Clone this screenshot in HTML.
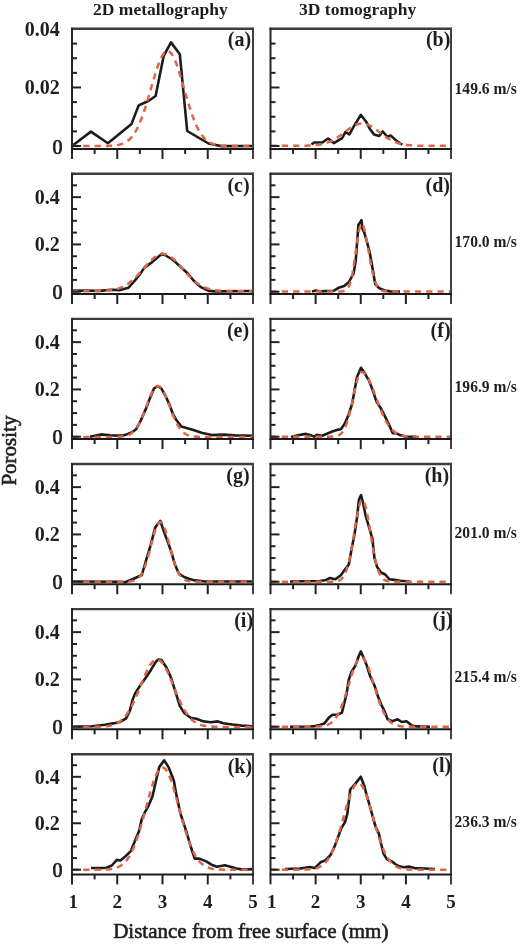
<!DOCTYPE html>
<html><head><meta charset="utf-8"><title>Porosity profiles</title>
<style>html,body{margin:0;padding:0;background:#fff;width:520px;height:945px;overflow:hidden}svg{display:block;filter:blur(0.45px)}</style>
</head><body>
<svg width="520" height="945" viewBox="0 0 520 945" font-family="Liberation Serif, 'Times New Roman', serif" fill="#1e1e1e"><polyline points="72.0,146.0 90.9,131.6 107.9,143.2 131.5,123.9 138.7,105.4 148.8,100.7 155.6,96.0 163.6,56.2 171.0,42.4 179.8,54.2 187.2,131.0 208.5,143.5 220.8,146.1 253.0,146.0" fill="none" stroke="#1c1c1c" stroke-width="2.6" stroke-linejoin="round"/>
<polyline points="72.0,146.0 73.0,146.0 74.0,146.0 75.0,146.0 76.0,146.0 77.0,146.0 78.0,146.0 79.0,146.0 80.0,146.0 81.0,146.0 82.0,146.0 83.0,146.0 84.0,146.0 85.0,146.0 86.0,146.0 87.0,146.0 88.0,146.0 89.0,146.0 90.0,146.0 91.0,146.0 92.0,146.0 93.0,146.0 94.0,146.0 95.0,146.0 96.0,146.0 97.0,146.0 98.0,146.0 99.0,146.0 100.0,146.0 101.0,146.0 102.0,146.0 103.0,146.0 104.0,145.9 105.0,145.9 106.0,145.9 107.0,145.9 108.0,145.9 109.0,145.8 110.0,145.8 111.0,145.7 112.0,145.7 113.0,145.6 114.0,145.5 115.0,145.4 116.0,145.3 117.0,145.1 118.0,144.9 119.0,144.7 120.0,144.5 121.0,144.2 122.0,143.9 123.0,143.5 124.0,143.1 125.0,142.6 126.0,142.0 127.0,141.3 128.0,140.6 129.0,139.8 130.0,138.8 131.0,137.8 132.0,136.6 133.0,135.3 134.0,133.9 135.0,132.3 136.0,130.6 137.0,128.8 138.0,126.8 139.0,124.6 140.0,122.3 141.0,119.8 142.0,117.2 143.0,114.5 144.0,111.5 145.0,108.5 146.0,105.4 147.0,102.1 148.0,98.7 149.0,95.3 150.0,91.9 151.0,88.4 152.0,84.9 153.0,81.4 154.0,78.0 155.0,74.7 156.0,71.5 157.0,68.4 158.0,65.5 159.0,62.8 160.0,60.3 161.0,58.1 162.0,56.1 163.0,54.5 164.0,53.1 165.0,52.1 166.0,51.4 167.0,51.0 168.0,51.0 169.0,51.4 170.0,52.1 171.0,53.1 172.0,54.5 173.0,56.1 174.0,58.1 175.0,60.3 176.0,62.8 177.0,65.5 178.0,68.4 179.0,71.5 180.0,74.7 181.0,78.0 182.0,81.4 183.0,84.9 184.0,88.4 185.0,91.9 186.0,95.3 187.0,98.7 188.0,102.1 189.0,105.4 190.0,108.5 191.0,111.5 192.0,114.5 193.0,117.2 194.0,119.8 195.0,122.3 196.0,124.6 197.0,126.8 198.0,128.8 199.0,130.6 200.0,132.3 201.0,133.9 202.0,135.3 203.0,136.6 204.0,137.8 205.0,138.8 206.0,139.8 207.0,140.6 208.0,141.3 209.0,142.0 210.0,142.6 211.0,143.1 212.0,143.5 213.0,143.9 214.0,144.2 215.0,144.5 216.0,144.7 217.0,144.9 218.0,145.1 219.0,145.3 220.0,145.4 221.0,145.5 222.0,145.6 223.0,145.7 224.0,145.7 225.0,145.8 226.0,145.8 227.0,145.9 228.0,145.9 229.0,145.9 230.0,145.9 231.0,145.9 232.0,146.0 233.0,146.0 234.0,146.0 235.0,146.0 236.0,146.0 237.0,146.0 238.0,146.0 239.0,146.0 240.0,146.0 241.0,146.0 242.0,146.0 243.0,146.0 244.0,146.0 245.0,146.0 246.0,146.0 247.0,146.0 248.0,146.0 249.0,146.0 250.0,146.0 251.0,146.0 252.0,146.0 253.0,146.0" fill="none" stroke="#e06446" stroke-width="2.5" stroke-dasharray="6.3 5"/>
<line x1="71.00" y1="28.70" x2="254.00" y2="28.70" stroke="#433a35" stroke-width="2.4"/>
<line x1="253.00" y1="27.70" x2="253.00" y2="158.90" stroke="#45403d" stroke-width="2"/>
<line x1="72.00" y1="27.70" x2="72.00" y2="158.90" stroke="#252525" stroke-width="2"/>
<line x1="71.00" y1="148.90" x2="254.00" y2="148.90" stroke="#1a1a1a" stroke-width="2"/>
<line x1="94.62" y1="148.90" x2="94.62" y2="153.90" stroke="#222" stroke-width="2"/>
<line x1="117.25" y1="148.90" x2="117.25" y2="158.90" stroke="#222" stroke-width="2"/>
<line x1="139.88" y1="148.90" x2="139.88" y2="153.90" stroke="#222" stroke-width="2"/>
<line x1="162.50" y1="148.90" x2="162.50" y2="158.90" stroke="#222" stroke-width="2"/>
<line x1="185.12" y1="148.90" x2="185.12" y2="153.90" stroke="#222" stroke-width="2"/>
<line x1="207.75" y1="148.90" x2="207.75" y2="158.90" stroke="#222" stroke-width="2"/>
<line x1="230.38" y1="148.90" x2="230.38" y2="153.90" stroke="#222" stroke-width="2"/>
<line x1="72.00" y1="146.00" x2="81.00" y2="146.00" stroke="#222" stroke-width="2"/>
<line x1="72.00" y1="131.37" x2="77.00" y2="131.37" stroke="#222" stroke-width="2"/>
<line x1="72.00" y1="116.74" x2="77.00" y2="116.74" stroke="#222" stroke-width="2"/>
<line x1="72.00" y1="102.11" x2="77.00" y2="102.11" stroke="#222" stroke-width="2"/>
<line x1="72.00" y1="87.48" x2="81.00" y2="87.48" stroke="#222" stroke-width="2"/>
<line x1="72.00" y1="72.85" x2="77.00" y2="72.85" stroke="#222" stroke-width="2"/>
<line x1="72.00" y1="58.22" x2="77.00" y2="58.22" stroke="#222" stroke-width="2"/>
<line x1="72.00" y1="43.59" x2="77.00" y2="43.59" stroke="#222" stroke-width="2"/>
<text x="251.10" y="45.80" font-size="20" font-weight="bold" text-anchor="end" >(a)</text>
<polyline points="311.5,144.5 314.2,142.5 322.3,142.5 328.1,138.5 333.8,143.1 339.6,139.6 341.9,138.5 345.4,132.1 349.4,134.4 353.5,126.9 360.8,114.8 366.5,122.3 370.0,129.2 374.0,134.4 379.2,135.9 382.7,131.5 387.3,136.7 390.8,135.6 396.5,140.8 402.3,144.8" fill="none" stroke="#1c1c1c" stroke-width="2.6" stroke-linejoin="round"/>
<polyline points="270.5,145.8 271.5,145.8 272.5,145.8 273.5,145.8 274.5,145.8 275.5,145.8 276.5,145.8 277.5,145.8 278.5,145.8 279.5,145.8 280.5,145.8 281.5,145.8 282.5,145.8 283.5,145.8 284.5,145.8 285.5,145.8 286.5,145.8 287.5,145.8 288.5,145.8 289.5,145.8 290.5,145.8 291.5,145.8 292.5,145.8 293.5,145.8 294.5,145.8 295.5,145.8 296.5,145.8 297.5,145.8 298.5,145.8 299.5,145.8 300.5,145.8 301.5,145.7 302.5,145.7 303.5,145.7 304.5,145.7 305.5,145.7 306.5,145.7 307.5,145.6 308.5,145.6 309.5,145.6 310.5,145.5 311.5,145.5 312.5,145.4 313.5,145.3 314.5,145.2 315.5,145.1 316.5,145.0 317.5,144.9 318.5,144.8 319.5,144.6 320.5,144.5 321.5,144.3 322.5,144.1 323.5,143.8 324.5,143.6 325.5,143.3 326.5,143.0 327.5,142.6 328.5,142.2 329.5,141.8 330.5,141.4 331.5,140.9 332.5,140.4 333.5,139.9 334.5,139.3 335.5,138.7 336.5,138.1 337.5,137.4 338.5,136.7 339.5,136.0 340.5,135.3 341.5,134.6 342.5,133.8 343.5,133.0 344.5,132.3 345.5,131.5 346.5,130.7 347.5,130.0 348.5,129.2 349.5,128.5 350.5,127.8 351.5,127.2 352.5,126.6 353.5,126.0 354.5,125.5 355.5,125.0 356.5,124.6 357.5,124.2 358.5,123.9 359.5,123.7 360.5,123.6 361.5,123.5 362.5,123.5 363.5,123.6 364.5,123.7 365.5,123.9 366.5,124.2 367.5,124.6 368.5,125.0 369.5,125.5 370.5,126.0 371.5,126.6 372.5,127.2 373.5,127.8 374.5,128.5 375.5,129.2 376.5,130.0 377.5,130.7 378.5,131.5 379.5,132.3 380.5,133.0 381.5,133.8 382.5,134.6 383.5,135.3 384.5,136.0 385.5,136.7 386.5,137.4 387.5,138.1 388.5,138.7 389.5,139.3 390.5,139.9 391.5,140.4 392.5,140.9 393.5,141.4 394.5,141.8 395.5,142.2 396.5,142.6 397.5,143.0 398.5,143.3 399.5,143.6 400.5,143.8 401.5,144.1 402.5,144.3 403.5,144.5 404.5,144.6 405.5,144.8 406.5,144.9 407.5,145.0 408.5,145.1 409.5,145.2 410.5,145.3 411.5,145.4 412.5,145.5 413.5,145.5 414.5,145.6 415.5,145.6 416.5,145.6 417.5,145.7 418.5,145.7 419.5,145.7 420.5,145.7 421.5,145.7 422.5,145.7 423.5,145.8 424.5,145.8 425.5,145.8 426.5,145.8 427.5,145.8 428.5,145.8 429.5,145.8 430.5,145.8 431.5,145.8 432.5,145.8 433.5,145.8 434.5,145.8 435.5,145.8 436.5,145.8 437.5,145.8 438.5,145.8 439.5,145.8 440.5,145.8 441.5,145.8 442.5,145.8 443.5,145.8 444.5,145.8 445.5,145.8 446.5,145.8 447.5,145.8 448.5,145.8 449.5,145.8 450.5,145.8" fill="none" stroke="#e06446" stroke-width="2.5" stroke-dasharray="6.3 5"/>
<line x1="269.50" y1="28.70" x2="452.00" y2="28.70" stroke="#433a35" stroke-width="2.4"/>
<line x1="451.00" y1="27.70" x2="451.00" y2="158.90" stroke="#45403d" stroke-width="2"/>
<line x1="270.50" y1="27.70" x2="270.50" y2="158.90" stroke="#252525" stroke-width="2"/>
<line x1="269.50" y1="148.90" x2="452.00" y2="148.90" stroke="#1a1a1a" stroke-width="2"/>
<line x1="293.06" y1="148.90" x2="293.06" y2="153.90" stroke="#222" stroke-width="2"/>
<line x1="315.62" y1="148.90" x2="315.62" y2="158.90" stroke="#222" stroke-width="2"/>
<line x1="338.19" y1="148.90" x2="338.19" y2="153.90" stroke="#222" stroke-width="2"/>
<line x1="360.75" y1="148.90" x2="360.75" y2="158.90" stroke="#222" stroke-width="2"/>
<line x1="383.31" y1="148.90" x2="383.31" y2="153.90" stroke="#222" stroke-width="2"/>
<line x1="405.88" y1="148.90" x2="405.88" y2="158.90" stroke="#222" stroke-width="2"/>
<line x1="428.44" y1="148.90" x2="428.44" y2="153.90" stroke="#222" stroke-width="2"/>
<line x1="270.50" y1="146.00" x2="279.50" y2="146.00" stroke="#222" stroke-width="2"/>
<line x1="270.50" y1="131.37" x2="275.50" y2="131.37" stroke="#222" stroke-width="2"/>
<line x1="270.50" y1="116.74" x2="275.50" y2="116.74" stroke="#222" stroke-width="2"/>
<line x1="270.50" y1="102.11" x2="275.50" y2="102.11" stroke="#222" stroke-width="2"/>
<line x1="270.50" y1="87.48" x2="279.50" y2="87.48" stroke="#222" stroke-width="2"/>
<line x1="270.50" y1="72.85" x2="275.50" y2="72.85" stroke="#222" stroke-width="2"/>
<line x1="270.50" y1="58.22" x2="275.50" y2="58.22" stroke="#222" stroke-width="2"/>
<line x1="270.50" y1="43.59" x2="275.50" y2="43.59" stroke="#222" stroke-width="2"/>
<text x="450.35" y="45.70" font-size="20" font-weight="bold" text-anchor="end" >(b)</text>
<text x="59.80" y="35.86" font-size="20" font-weight="bold" text-anchor="end" >0.04</text>
<text x="59.80" y="94.38" font-size="20" font-weight="bold" text-anchor="end" >0.02</text>
<text x="62.50" y="153.70" font-size="20" font-weight="normal" text-anchor="end" stroke="#1e1e1e" stroke-width="0.7">0</text>
<text x="454.60" y="94.20" font-size="17" font-weight="bold" text-anchor="start" textLength="62.2" lengthAdjust="spacingAndGlyphs">149.6 m/s</text>
<polyline points="72.0,290.5 100.0,290.9 110.8,289.8 120.2,290.1 128.3,287.8 135.0,280.4 140.4,273.6 144.4,267.6 151.1,262.9 162.2,253.5 172.5,259.5 179.2,265.6 187.3,273.0 194.0,281.0 200.8,287.1 208.8,290.9 215.6,291.4 253.0,291.0" fill="none" stroke="#1c1c1c" stroke-width="2.6" stroke-linejoin="round"/>
<polyline points="72.0,291.2 73.0,291.2 74.0,291.2 75.0,291.2 76.0,291.2 77.0,291.2 78.0,291.2 79.0,291.2 80.0,291.2 81.0,291.2 82.0,291.2 83.0,291.2 84.0,291.2 85.0,291.2 86.0,291.2 87.0,291.2 88.0,291.2 89.0,291.2 90.0,291.2 91.0,291.2 92.0,291.2 93.0,291.1 94.0,291.1 95.0,291.1 96.0,291.1 97.0,291.1 98.0,291.1 99.0,291.0 100.0,291.0 101.0,291.0 102.0,290.9 103.0,290.9 104.0,290.8 105.0,290.8 106.0,290.7 107.0,290.6 108.0,290.5 109.0,290.4 110.0,290.3 111.0,290.1 112.0,290.0 113.0,289.8 114.0,289.6 115.0,289.4 116.0,289.2 117.0,288.9 118.0,288.6 119.0,288.3 120.0,287.9 121.0,287.5 122.0,287.1 123.0,286.7 124.0,286.2 125.0,285.6 126.0,285.1 127.0,284.4 128.0,283.8 129.0,283.1 130.0,282.3 131.0,281.5 132.0,280.7 133.0,279.8 134.0,278.9 135.0,277.9 136.0,276.9 137.0,275.9 138.0,274.8 139.0,273.8 140.0,272.6 141.0,271.5 142.0,270.4 143.0,269.2 144.0,268.1 145.0,266.9 146.0,265.8 147.0,264.6 148.0,263.5 149.0,262.5 150.0,261.4 151.0,260.4 152.0,259.5 153.0,258.6 154.0,257.8 155.0,257.0 156.0,256.3 157.0,255.7 158.0,255.2 159.0,254.8 160.0,254.4 161.0,254.2 162.0,254.0 163.0,254.0 164.0,254.0 165.0,254.2 166.0,254.4 167.0,254.8 168.0,255.2 169.0,255.7 170.0,256.3 171.0,257.0 172.0,257.8 173.0,258.6 174.0,259.5 175.0,260.4 176.0,261.4 177.0,262.5 178.0,263.5 179.0,264.6 180.0,265.8 181.0,266.9 182.0,268.1 183.0,269.2 184.0,270.4 185.0,271.5 186.0,272.6 187.0,273.8 188.0,274.8 189.0,275.9 190.0,276.9 191.0,277.9 192.0,278.9 193.0,279.8 194.0,280.7 195.0,281.5 196.0,282.3 197.0,283.1 198.0,283.8 199.0,284.4 200.0,285.1 201.0,285.6 202.0,286.2 203.0,286.7 204.0,287.1 205.0,287.5 206.0,287.9 207.0,288.3 208.0,288.6 209.0,288.9 210.0,289.2 211.0,289.4 212.0,289.6 213.0,289.8 214.0,290.0 215.0,290.1 216.0,290.3 217.0,290.4 218.0,290.5 219.0,290.6 220.0,290.7 221.0,290.8 222.0,290.8 223.0,290.9 224.0,290.9 225.0,291.0 226.0,291.0 227.0,291.0 228.0,291.1 229.0,291.1 230.0,291.1 231.0,291.1 232.0,291.1 233.0,291.1 234.0,291.2 235.0,291.2 236.0,291.2 237.0,291.2 238.0,291.2 239.0,291.2 240.0,291.2 241.0,291.2 242.0,291.2 243.0,291.2 244.0,291.2 245.0,291.2 246.0,291.2 247.0,291.2 248.0,291.2 249.0,291.2 250.0,291.2 251.0,291.2 252.0,291.2 253.0,291.2" fill="none" stroke="#e06446" stroke-width="2.5" stroke-dasharray="6.3 5"/>
<line x1="71.00" y1="173.80" x2="254.00" y2="173.80" stroke="#433a35" stroke-width="2.4"/>
<line x1="253.00" y1="172.80" x2="253.00" y2="304.00" stroke="#45403d" stroke-width="2"/>
<line x1="72.00" y1="172.80" x2="72.00" y2="304.00" stroke="#252525" stroke-width="2"/>
<line x1="71.00" y1="294.00" x2="254.00" y2="294.00" stroke="#1a1a1a" stroke-width="2"/>
<line x1="94.62" y1="294.00" x2="94.62" y2="299.00" stroke="#222" stroke-width="2"/>
<line x1="117.25" y1="294.00" x2="117.25" y2="304.00" stroke="#222" stroke-width="2"/>
<line x1="139.88" y1="294.00" x2="139.88" y2="299.00" stroke="#222" stroke-width="2"/>
<line x1="162.50" y1="294.00" x2="162.50" y2="304.00" stroke="#222" stroke-width="2"/>
<line x1="185.12" y1="294.00" x2="185.12" y2="299.00" stroke="#222" stroke-width="2"/>
<line x1="207.75" y1="294.00" x2="207.75" y2="304.00" stroke="#222" stroke-width="2"/>
<line x1="230.38" y1="294.00" x2="230.38" y2="299.00" stroke="#222" stroke-width="2"/>
<line x1="72.00" y1="291.70" x2="81.00" y2="291.70" stroke="#222" stroke-width="2"/>
<line x1="72.00" y1="279.88" x2="77.00" y2="279.88" stroke="#222" stroke-width="2"/>
<line x1="72.00" y1="268.06" x2="77.00" y2="268.06" stroke="#222" stroke-width="2"/>
<line x1="72.00" y1="256.24" x2="77.00" y2="256.24" stroke="#222" stroke-width="2"/>
<line x1="72.00" y1="244.42" x2="81.00" y2="244.42" stroke="#222" stroke-width="2"/>
<line x1="72.00" y1="232.60" x2="77.00" y2="232.60" stroke="#222" stroke-width="2"/>
<line x1="72.00" y1="220.78" x2="77.00" y2="220.78" stroke="#222" stroke-width="2"/>
<line x1="72.00" y1="208.96" x2="77.00" y2="208.96" stroke="#222" stroke-width="2"/>
<line x1="72.00" y1="197.14" x2="81.00" y2="197.14" stroke="#222" stroke-width="2"/>
<line x1="72.00" y1="185.32" x2="77.00" y2="185.32" stroke="#222" stroke-width="2"/>
<text x="249.60" y="192.40" font-size="20" font-weight="bold" text-anchor="end" >(c)</text>
<polyline points="312.0,291.5 316.0,290.5 320.0,291.4 333.5,290.8 339.5,287.4 344.2,286.0 348.9,282.0 353.6,273.3 355.7,261.1 357.0,243.6 358.4,224.8 360.4,222.1 361.5,220.1 362.4,228.8 364.4,232.9 367.1,242.3 369.8,253.1 372.5,267.9 375.2,284.0 379.2,288.1 384.6,290.5 390.0,291.4 400.0,291.5" fill="none" stroke="#1c1c1c" stroke-width="2.6" stroke-linejoin="round"/>
<polyline points="270.5,291.5 271.5,291.5 272.5,291.5 273.5,291.5 274.5,291.5 275.5,291.5 276.5,291.5 277.5,291.5 278.5,291.5 279.5,291.5 280.5,291.5 281.5,291.5 282.5,291.5 283.5,291.5 284.5,291.5 285.5,291.5 286.5,291.5 287.5,291.5 288.5,291.5 289.5,291.5 290.5,291.5 291.5,291.5 292.5,291.5 293.5,291.5 294.5,291.5 295.5,291.5 296.5,291.5 297.5,291.5 298.5,291.5 299.5,291.5 300.5,291.5 301.5,291.5 302.5,291.5 303.5,291.5 304.5,291.5 305.5,291.5 306.5,291.5 307.5,291.5 308.5,291.5 309.5,291.5 310.5,291.5 311.5,291.5 312.5,291.5 313.5,291.5 314.5,291.5 315.5,291.5 316.5,291.5 317.5,291.5 318.5,291.5 319.5,291.5 320.5,291.5 321.5,291.5 322.5,291.5 323.5,291.5 324.5,291.5 325.5,291.5 326.5,291.5 327.5,291.5 328.5,291.5 329.5,291.5 330.5,291.5 331.5,291.5 332.5,291.5 333.5,291.5 334.5,291.5 335.5,291.5 336.5,291.5 337.5,291.5 338.5,291.5 339.5,291.5 340.5,291.4 341.5,291.4 342.5,291.3 343.5,291.1 344.5,290.8 345.5,290.4 346.5,289.6 347.5,288.5 348.5,286.9 349.5,284.7 350.5,281.7 351.5,277.8 352.5,272.9 353.5,267.2 354.5,260.6 355.5,253.5 356.5,246.2 357.5,239.2 358.5,233.0 359.5,228.2 360.5,225.1 361.5,224.0 362.5,224.7 363.5,226.7 364.5,229.9 365.5,234.2 366.5,239.2 367.5,244.8 368.5,250.6 369.5,256.4 370.5,262.0 371.5,267.2 372.5,271.9 373.5,276.0 374.5,279.5 375.5,282.4 376.5,284.7 377.5,286.5 378.5,288.0 379.5,289.0 380.5,289.8 381.5,290.4 382.5,290.8 383.5,291.0 384.5,291.2 385.5,291.3 386.5,291.4 387.5,291.4 388.5,291.5 389.5,291.5 390.5,291.5 391.5,291.5 392.5,291.5 393.5,291.5 394.5,291.5 395.5,291.5 396.5,291.5 397.5,291.5 398.5,291.5 399.5,291.5 400.5,291.5 401.5,291.5 402.5,291.5 403.5,291.5 404.5,291.5 405.5,291.5 406.5,291.5 407.5,291.5 408.5,291.5 409.5,291.5 410.5,291.5 411.5,291.5 412.5,291.5 413.5,291.5 414.5,291.5 415.5,291.5 416.5,291.5 417.5,291.5 418.5,291.5 419.5,291.5 420.5,291.5 421.5,291.5 422.5,291.5 423.5,291.5 424.5,291.5 425.5,291.5 426.5,291.5 427.5,291.5 428.5,291.5 429.5,291.5 430.5,291.5 431.5,291.5 432.5,291.5 433.5,291.5 434.5,291.5 435.5,291.5 436.5,291.5 437.5,291.5 438.5,291.5 439.5,291.5 440.5,291.5 441.5,291.5 442.5,291.5 443.5,291.5 444.5,291.5 445.5,291.5 446.5,291.5 447.5,291.5 448.5,291.5 449.5,291.5 450.5,291.5" fill="none" stroke="#e06446" stroke-width="2.5" stroke-dasharray="6.3 5"/>
<line x1="269.50" y1="173.80" x2="452.00" y2="173.80" stroke="#433a35" stroke-width="2.4"/>
<line x1="451.00" y1="172.80" x2="451.00" y2="304.00" stroke="#45403d" stroke-width="2"/>
<line x1="270.50" y1="172.80" x2="270.50" y2="304.00" stroke="#252525" stroke-width="2"/>
<line x1="269.50" y1="294.00" x2="452.00" y2="294.00" stroke="#1a1a1a" stroke-width="2"/>
<line x1="293.06" y1="294.00" x2="293.06" y2="299.00" stroke="#222" stroke-width="2"/>
<line x1="315.62" y1="294.00" x2="315.62" y2="304.00" stroke="#222" stroke-width="2"/>
<line x1="338.19" y1="294.00" x2="338.19" y2="299.00" stroke="#222" stroke-width="2"/>
<line x1="360.75" y1="294.00" x2="360.75" y2="304.00" stroke="#222" stroke-width="2"/>
<line x1="383.31" y1="294.00" x2="383.31" y2="299.00" stroke="#222" stroke-width="2"/>
<line x1="405.88" y1="294.00" x2="405.88" y2="304.00" stroke="#222" stroke-width="2"/>
<line x1="428.44" y1="294.00" x2="428.44" y2="299.00" stroke="#222" stroke-width="2"/>
<line x1="270.50" y1="291.70" x2="279.50" y2="291.70" stroke="#222" stroke-width="2"/>
<line x1="270.50" y1="279.88" x2="275.50" y2="279.88" stroke="#222" stroke-width="2"/>
<line x1="270.50" y1="268.06" x2="275.50" y2="268.06" stroke="#222" stroke-width="2"/>
<line x1="270.50" y1="256.24" x2="275.50" y2="256.24" stroke="#222" stroke-width="2"/>
<line x1="270.50" y1="244.42" x2="279.50" y2="244.42" stroke="#222" stroke-width="2"/>
<line x1="270.50" y1="232.60" x2="275.50" y2="232.60" stroke="#222" stroke-width="2"/>
<line x1="270.50" y1="220.78" x2="275.50" y2="220.78" stroke="#222" stroke-width="2"/>
<line x1="270.50" y1="208.96" x2="275.50" y2="208.96" stroke="#222" stroke-width="2"/>
<line x1="270.50" y1="197.14" x2="279.50" y2="197.14" stroke="#222" stroke-width="2"/>
<line x1="270.50" y1="185.32" x2="275.50" y2="185.32" stroke="#222" stroke-width="2"/>
<text x="450.00" y="191.90" font-size="20" font-weight="bold" text-anchor="end" >(d)</text>
<text x="59.80" y="204.04" font-size="20" font-weight="bold" text-anchor="end" >0.4</text>
<text x="59.80" y="251.32" font-size="20" font-weight="bold" text-anchor="end" >0.2</text>
<text x="62.50" y="299.40" font-size="20" font-weight="normal" text-anchor="end" stroke="#1e1e1e" stroke-width="0.7">0</text>
<text x="454.60" y="246.90" font-size="17" font-weight="bold" text-anchor="start" textLength="62.2" lengthAdjust="spacingAndGlyphs">170.0 m/s</text>
<polyline points="90.0,436.7 100.8,434.4 110.0,435.2 118.2,435.6 123.1,435.6 126.2,434.6 132.0,432.1 135.9,429.5 140.6,420.8 146.0,408.6 150.0,397.9 154.0,388.5 157.4,386.0 161.4,388.5 166.1,397.2 169.5,404.6 172.9,414.0 176.0,419.5 181.3,426.5 192.6,429.7 202.3,433.0 212.0,435.1 223.3,434.6 234.6,435.4 253.0,435.7" fill="none" stroke="#1c1c1c" stroke-width="2.6" stroke-linejoin="round"/>
<polyline points="72.0,436.9 73.0,436.9 74.0,436.9 75.0,436.9 76.0,436.9 77.0,436.9 78.0,436.9 79.0,436.9 80.0,436.9 81.0,436.9 82.0,436.9 83.0,436.9 84.0,436.9 85.0,436.9 86.0,436.9 87.0,436.9 88.0,436.9 89.0,436.9 90.0,436.9 91.0,436.9 92.0,436.9 93.0,436.9 94.0,436.9 95.0,436.9 96.0,436.9 97.0,436.9 98.0,436.9 99.0,436.9 100.0,436.9 101.0,436.9 102.0,436.9 103.0,436.9 104.0,436.9 105.0,436.9 106.0,436.9 107.0,436.9 108.0,436.9 109.0,436.9 110.0,436.9 111.0,436.9 112.0,436.9 113.0,436.9 114.0,436.9 115.0,436.9 116.0,436.8 117.0,436.8 118.0,436.8 119.0,436.7 120.0,436.7 121.0,436.6 122.0,436.5 123.0,436.4 124.0,436.3 125.0,436.1 126.0,435.8 127.0,435.6 128.0,435.2 129.0,434.8 130.0,434.3 131.0,433.7 132.0,432.9 133.0,432.1 134.0,431.1 135.0,430.0 136.0,428.7 137.0,427.3 138.0,425.7 139.0,423.9 140.0,421.9 141.0,419.8 142.0,417.6 143.0,415.2 144.0,412.6 145.0,410.0 146.0,407.4 147.0,404.7 148.0,402.0 149.0,399.4 150.0,396.9 151.0,394.6 152.0,392.5 153.0,390.6 154.0,389.0 155.0,387.7 156.0,386.8 157.0,386.2 158.0,386.0 159.0,386.2 160.0,386.8 161.0,387.7 162.0,389.0 163.0,390.6 164.0,392.5 165.0,394.6 166.0,396.9 167.0,399.4 168.0,402.0 169.0,404.7 170.0,407.4 171.0,410.0 172.0,412.6 173.0,415.2 174.0,417.6 175.0,419.8 176.0,421.9 177.0,423.9 178.0,425.7 179.0,427.3 180.0,428.7 181.0,430.0 182.0,431.1 183.0,432.1 184.0,432.9 185.0,433.7 186.0,434.3 187.0,434.8 188.0,435.2 189.0,435.6 190.0,435.8 191.0,436.1 192.0,436.3 193.0,436.4 194.0,436.5 195.0,436.6 196.0,436.7 197.0,436.7 198.0,436.8 199.0,436.8 200.0,436.8 201.0,436.9 202.0,436.9 203.0,436.9 204.0,436.9 205.0,436.9 206.0,436.9 207.0,436.9 208.0,436.9 209.0,436.9 210.0,436.9 211.0,436.9 212.0,436.9 213.0,436.9 214.0,436.9 215.0,436.9 216.0,436.9 217.0,436.9 218.0,436.9 219.0,436.9 220.0,436.9 221.0,436.9 222.0,436.9 223.0,436.9 224.0,436.9 225.0,436.9 226.0,436.9 227.0,436.9 228.0,436.9 229.0,436.9 230.0,436.9 231.0,436.9 232.0,436.9 233.0,436.9 234.0,436.9 235.0,436.9 236.0,436.9 237.0,436.9 238.0,436.9 239.0,436.9 240.0,436.9 241.0,436.9 242.0,436.9 243.0,436.9 244.0,436.9 245.0,436.9 246.0,436.9 247.0,436.9 248.0,436.9 249.0,436.9 250.0,436.9 251.0,436.9 252.0,436.9 253.0,436.9" fill="none" stroke="#e06446" stroke-width="2.5" stroke-dasharray="6.3 5"/>
<line x1="71.00" y1="318.90" x2="254.00" y2="318.90" stroke="#433a35" stroke-width="2.4"/>
<line x1="253.00" y1="317.90" x2="253.00" y2="449.10" stroke="#45403d" stroke-width="2"/>
<line x1="72.00" y1="317.90" x2="72.00" y2="449.10" stroke="#252525" stroke-width="2"/>
<line x1="71.00" y1="439.10" x2="254.00" y2="439.10" stroke="#1a1a1a" stroke-width="2"/>
<line x1="94.62" y1="439.10" x2="94.62" y2="444.10" stroke="#222" stroke-width="2"/>
<line x1="117.25" y1="439.10" x2="117.25" y2="449.10" stroke="#222" stroke-width="2"/>
<line x1="139.88" y1="439.10" x2="139.88" y2="444.10" stroke="#222" stroke-width="2"/>
<line x1="162.50" y1="439.10" x2="162.50" y2="449.10" stroke="#222" stroke-width="2"/>
<line x1="185.12" y1="439.10" x2="185.12" y2="444.10" stroke="#222" stroke-width="2"/>
<line x1="207.75" y1="439.10" x2="207.75" y2="449.10" stroke="#222" stroke-width="2"/>
<line x1="230.38" y1="439.10" x2="230.38" y2="444.10" stroke="#222" stroke-width="2"/>
<line x1="72.00" y1="436.70" x2="81.00" y2="436.70" stroke="#222" stroke-width="2"/>
<line x1="72.00" y1="424.88" x2="77.00" y2="424.88" stroke="#222" stroke-width="2"/>
<line x1="72.00" y1="413.06" x2="77.00" y2="413.06" stroke="#222" stroke-width="2"/>
<line x1="72.00" y1="401.24" x2="77.00" y2="401.24" stroke="#222" stroke-width="2"/>
<line x1="72.00" y1="389.42" x2="81.00" y2="389.42" stroke="#222" stroke-width="2"/>
<line x1="72.00" y1="377.60" x2="77.00" y2="377.60" stroke="#222" stroke-width="2"/>
<line x1="72.00" y1="365.78" x2="77.00" y2="365.78" stroke="#222" stroke-width="2"/>
<line x1="72.00" y1="353.96" x2="77.00" y2="353.96" stroke="#222" stroke-width="2"/>
<line x1="72.00" y1="342.14" x2="81.00" y2="342.14" stroke="#222" stroke-width="2"/>
<line x1="72.00" y1="330.32" x2="77.00" y2="330.32" stroke="#222" stroke-width="2"/>
<text x="249.10" y="337.35" font-size="20" font-weight="bold" text-anchor="end" >(e)</text>
<polyline points="291.0,437.0 297.9,435.3 306.0,433.9 310.0,434.9 314.1,436.6 316.8,434.9 322.1,435.7 327.5,433.5 332.9,431.2 337.0,429.9 340.8,429.2 344.8,423.6 348.8,414.2 352.2,403.5 354.9,388.6 356.9,377.2 361.0,367.8 365.0,373.8 369.0,380.6 373.1,391.3 376.4,401.4 381.1,408.8 385.2,416.9 389.2,425.0 392.6,433.1 396.0,433.1 400.0,435.1 405.0,436.5 416.0,436.7" fill="none" stroke="#1c1c1c" stroke-width="2.6" stroke-linejoin="round"/>
<polyline points="270.5,436.7 271.5,436.7 272.5,436.7 273.5,436.7 274.5,436.7 275.5,436.7 276.5,436.7 277.5,436.7 278.5,436.7 279.5,436.7 280.5,436.7 281.5,436.7 282.5,436.7 283.5,436.7 284.5,436.7 285.5,436.7 286.5,436.7 287.5,436.7 288.5,436.7 289.5,436.7 290.5,436.7 291.5,436.7 292.5,436.7 293.5,436.7 294.5,436.7 295.5,436.7 296.5,436.7 297.5,436.7 298.5,436.7 299.5,436.7 300.5,436.7 301.5,436.7 302.5,436.7 303.5,436.7 304.5,436.7 305.5,436.7 306.5,436.7 307.5,436.7 308.5,436.7 309.5,436.7 310.5,436.7 311.5,436.7 312.5,436.7 313.5,436.7 314.5,436.7 315.5,436.7 316.5,436.7 317.5,436.7 318.5,436.7 319.5,436.7 320.5,436.7 321.5,436.7 322.5,436.7 323.5,436.7 324.5,436.7 325.5,436.7 326.5,436.7 327.5,436.7 328.5,436.7 329.5,436.7 330.5,436.6 331.5,436.6 332.5,436.6 333.5,436.5 334.5,436.4 335.5,436.2 336.5,436.0 337.5,435.7 338.5,435.3 339.5,434.8 340.5,434.1 341.5,433.2 342.5,432.0 343.5,430.5 344.5,428.8 345.5,426.6 346.5,424.1 347.5,421.1 348.5,417.7 349.5,413.9 350.5,409.8 351.5,405.4 352.5,400.8 353.5,396.0 354.5,391.4 355.5,386.9 356.5,382.7 357.5,379.1 358.5,376.1 359.5,373.9 360.5,372.5 361.5,372.0 362.5,372.2 363.5,372.6 364.5,373.4 365.5,374.4 366.5,375.7 367.5,377.3 368.5,379.1 369.5,381.1 370.5,383.3 371.5,385.7 372.5,388.2 373.5,390.8 374.5,393.4 375.5,396.1 376.5,398.8 377.5,401.5 378.5,404.2 379.5,406.8 380.5,409.3 381.5,411.7 382.5,414.0 383.5,416.2 384.5,418.3 385.5,420.3 386.5,422.1 387.5,423.7 388.5,425.3 389.5,426.7 390.5,427.9 391.5,429.1 392.5,430.1 393.5,431.0 394.5,431.8 395.5,432.6 396.5,433.2 397.5,433.7 398.5,434.2 399.5,434.6 400.5,435.0 401.5,435.3 402.5,435.5 403.5,435.7 404.5,435.9 405.5,436.1 406.5,436.2 407.5,436.3 408.5,436.4 409.5,436.4 410.5,436.5 411.5,436.5 412.5,436.6 413.5,436.6 414.5,436.6 415.5,436.6 416.5,436.7 417.5,436.7 418.5,436.7 419.5,436.7 420.5,436.7 421.5,436.7 422.5,436.7 423.5,436.7 424.5,436.7 425.5,436.7 426.5,436.7 427.5,436.7 428.5,436.7 429.5,436.7 430.5,436.7 431.5,436.7 432.5,436.7 433.5,436.7 434.5,436.7 435.5,436.7 436.5,436.7 437.5,436.7 438.5,436.7 439.5,436.7 440.5,436.7 441.5,436.7 442.5,436.7 443.5,436.7 444.5,436.7 445.5,436.7 446.5,436.7 447.5,436.7 448.5,436.7 449.5,436.7 450.5,436.7" fill="none" stroke="#e06446" stroke-width="2.5" stroke-dasharray="6.3 5"/>
<line x1="269.50" y1="318.90" x2="452.00" y2="318.90" stroke="#433a35" stroke-width="2.4"/>
<line x1="451.00" y1="317.90" x2="451.00" y2="449.10" stroke="#45403d" stroke-width="2"/>
<line x1="270.50" y1="317.90" x2="270.50" y2="449.10" stroke="#252525" stroke-width="2"/>
<line x1="269.50" y1="439.10" x2="452.00" y2="439.10" stroke="#1a1a1a" stroke-width="2"/>
<line x1="293.06" y1="439.10" x2="293.06" y2="444.10" stroke="#222" stroke-width="2"/>
<line x1="315.62" y1="439.10" x2="315.62" y2="449.10" stroke="#222" stroke-width="2"/>
<line x1="338.19" y1="439.10" x2="338.19" y2="444.10" stroke="#222" stroke-width="2"/>
<line x1="360.75" y1="439.10" x2="360.75" y2="449.10" stroke="#222" stroke-width="2"/>
<line x1="383.31" y1="439.10" x2="383.31" y2="444.10" stroke="#222" stroke-width="2"/>
<line x1="405.88" y1="439.10" x2="405.88" y2="449.10" stroke="#222" stroke-width="2"/>
<line x1="428.44" y1="439.10" x2="428.44" y2="444.10" stroke="#222" stroke-width="2"/>
<line x1="270.50" y1="436.70" x2="279.50" y2="436.70" stroke="#222" stroke-width="2"/>
<line x1="270.50" y1="424.88" x2="275.50" y2="424.88" stroke="#222" stroke-width="2"/>
<line x1="270.50" y1="413.06" x2="275.50" y2="413.06" stroke="#222" stroke-width="2"/>
<line x1="270.50" y1="401.24" x2="275.50" y2="401.24" stroke="#222" stroke-width="2"/>
<line x1="270.50" y1="389.42" x2="279.50" y2="389.42" stroke="#222" stroke-width="2"/>
<line x1="270.50" y1="377.60" x2="275.50" y2="377.60" stroke="#222" stroke-width="2"/>
<line x1="270.50" y1="365.78" x2="275.50" y2="365.78" stroke="#222" stroke-width="2"/>
<line x1="270.50" y1="353.96" x2="275.50" y2="353.96" stroke="#222" stroke-width="2"/>
<line x1="270.50" y1="342.14" x2="279.50" y2="342.14" stroke="#222" stroke-width="2"/>
<line x1="270.50" y1="330.32" x2="275.50" y2="330.32" stroke="#222" stroke-width="2"/>
<text x="450.60" y="337.20" font-size="20" font-weight="bold" text-anchor="end" >(f)</text>
<text x="59.80" y="349.04" font-size="20" font-weight="bold" text-anchor="end" >0.4</text>
<text x="59.80" y="396.32" font-size="20" font-weight="bold" text-anchor="end" >0.2</text>
<text x="62.50" y="444.40" font-size="20" font-weight="normal" text-anchor="end" stroke="#1e1e1e" stroke-width="0.7">0</text>
<text x="454.60" y="392.30" font-size="17" font-weight="bold" text-anchor="start" textLength="62.2" lengthAdjust="spacingAndGlyphs">196.9 m/s</text>
<polyline points="72.0,581.5 120.0,581.8 125.0,582.2 133.1,579.0 141.8,575.0 146.5,558.8 150.6,545.4 155.3,527.2 160.3,520.9 164.0,531.9 168.1,542.7 171.4,552.1 174.8,564.2 178.8,573.6 184.2,577.0 189.6,579.0 195.0,580.4 205.0,581.5 253.0,581.5" fill="none" stroke="#1c1c1c" stroke-width="2.6" stroke-linejoin="round"/>
<polyline points="72.0,581.7 73.0,581.7 74.0,581.7 75.0,581.7 76.0,581.7 77.0,581.7 78.0,581.7 79.0,581.7 80.0,581.7 81.0,581.7 82.0,581.7 83.0,581.7 84.0,581.7 85.0,581.7 86.0,581.7 87.0,581.7 88.0,581.7 89.0,581.7 90.0,581.7 91.0,581.7 92.0,581.7 93.0,581.7 94.0,581.7 95.0,581.7 96.0,581.7 97.0,581.7 98.0,581.7 99.0,581.7 100.0,581.7 101.0,581.7 102.0,581.7 103.0,581.7 104.0,581.7 105.0,581.7 106.0,581.7 107.0,581.7 108.0,581.7 109.0,581.7 110.0,581.7 111.0,581.7 112.0,581.7 113.0,581.7 114.0,581.7 115.0,581.7 116.0,581.7 117.0,581.7 118.0,581.7 119.0,581.7 120.0,581.7 121.0,581.7 122.0,581.7 123.0,581.7 124.0,581.7 125.0,581.7 126.0,581.6 127.0,581.6 128.0,581.6 129.0,581.5 130.0,581.4 131.0,581.3 132.0,581.1 133.0,580.9 134.0,580.6 135.0,580.2 136.0,579.7 137.0,579.1 138.0,578.3 139.0,577.4 140.0,576.2 141.0,574.8 142.0,573.1 143.0,571.1 144.0,568.8 145.0,566.3 146.0,563.4 147.0,560.2 148.0,556.8 149.0,553.2 150.0,549.4 151.0,545.5 152.0,541.6 153.0,537.8 154.0,534.2 155.0,530.9 156.0,528.1 157.0,525.6 158.0,523.8 159.0,522.6 160.0,522.0 161.0,522.2 162.0,523.0 163.0,524.5 164.0,526.5 165.0,529.2 166.0,532.2 167.0,535.6 168.0,539.3 169.0,543.2 170.0,547.0 171.0,550.9 172.0,554.6 173.0,558.2 174.0,561.5 175.0,564.6 176.0,567.3 177.0,569.8 178.0,571.9 179.0,573.8 180.0,575.4 181.0,576.7 182.0,577.8 183.0,578.7 184.0,579.4 185.0,579.9 186.0,580.4 187.0,580.7 188.0,581.0 189.0,581.2 190.0,581.3 191.0,581.4 192.0,581.5 193.0,581.6 194.0,581.6 195.0,581.6 196.0,581.7 197.0,581.7 198.0,581.7 199.0,581.7 200.0,581.7 201.0,581.7 202.0,581.7 203.0,581.7 204.0,581.7 205.0,581.7 206.0,581.7 207.0,581.7 208.0,581.7 209.0,581.7 210.0,581.7 211.0,581.7 212.0,581.7 213.0,581.7 214.0,581.7 215.0,581.7 216.0,581.7 217.0,581.7 218.0,581.7 219.0,581.7 220.0,581.7 221.0,581.7 222.0,581.7 223.0,581.7 224.0,581.7 225.0,581.7 226.0,581.7 227.0,581.7 228.0,581.7 229.0,581.7 230.0,581.7 231.0,581.7 232.0,581.7 233.0,581.7 234.0,581.7 235.0,581.7 236.0,581.7 237.0,581.7 238.0,581.7 239.0,581.7 240.0,581.7 241.0,581.7 242.0,581.7 243.0,581.7 244.0,581.7 245.0,581.7 246.0,581.7 247.0,581.7 248.0,581.7 249.0,581.7 250.0,581.7 251.0,581.7 252.0,581.7 253.0,581.7" fill="none" stroke="#e06446" stroke-width="2.5" stroke-dasharray="6.3 5"/>
<line x1="71.00" y1="464.00" x2="254.00" y2="464.00" stroke="#433a35" stroke-width="2.4"/>
<line x1="253.00" y1="463.00" x2="253.00" y2="594.20" stroke="#45403d" stroke-width="2"/>
<line x1="72.00" y1="463.00" x2="72.00" y2="594.20" stroke="#252525" stroke-width="2"/>
<line x1="71.00" y1="584.20" x2="254.00" y2="584.20" stroke="#1a1a1a" stroke-width="2"/>
<line x1="94.62" y1="584.20" x2="94.62" y2="589.20" stroke="#222" stroke-width="2"/>
<line x1="117.25" y1="584.20" x2="117.25" y2="594.20" stroke="#222" stroke-width="2"/>
<line x1="139.88" y1="584.20" x2="139.88" y2="589.20" stroke="#222" stroke-width="2"/>
<line x1="162.50" y1="584.20" x2="162.50" y2="594.20" stroke="#222" stroke-width="2"/>
<line x1="185.12" y1="584.20" x2="185.12" y2="589.20" stroke="#222" stroke-width="2"/>
<line x1="207.75" y1="584.20" x2="207.75" y2="594.20" stroke="#222" stroke-width="2"/>
<line x1="230.38" y1="584.20" x2="230.38" y2="589.20" stroke="#222" stroke-width="2"/>
<line x1="72.00" y1="581.70" x2="81.00" y2="581.70" stroke="#222" stroke-width="2"/>
<line x1="72.00" y1="569.88" x2="77.00" y2="569.88" stroke="#222" stroke-width="2"/>
<line x1="72.00" y1="558.06" x2="77.00" y2="558.06" stroke="#222" stroke-width="2"/>
<line x1="72.00" y1="546.24" x2="77.00" y2="546.24" stroke="#222" stroke-width="2"/>
<line x1="72.00" y1="534.42" x2="81.00" y2="534.42" stroke="#222" stroke-width="2"/>
<line x1="72.00" y1="522.60" x2="77.00" y2="522.60" stroke="#222" stroke-width="2"/>
<line x1="72.00" y1="510.78" x2="77.00" y2="510.78" stroke="#222" stroke-width="2"/>
<line x1="72.00" y1="498.96" x2="77.00" y2="498.96" stroke="#222" stroke-width="2"/>
<line x1="72.00" y1="487.14" x2="81.00" y2="487.14" stroke="#222" stroke-width="2"/>
<line x1="72.00" y1="475.32" x2="77.00" y2="475.32" stroke="#222" stroke-width="2"/>
<text x="249.60" y="481.85" font-size="20" font-weight="bold" text-anchor="end" >(g)</text>
<polyline points="290.0,581.5 320.0,581.0 326.0,580.0 330.0,577.9 335.4,579.2 340.8,575.2 344.8,569.8 348.8,564.4 351.5,549.6 354.2,536.1 356.9,518.6 358.9,499.8 361.0,495.1 363.0,502.5 365.7,516.0 369.7,529.4 372.4,538.8 374.4,557.7 377.1,567.1 381.1,572.5 385.2,574.5 389.2,579.2 394.6,579.9 400.0,580.8 410.0,581.5" fill="none" stroke="#1c1c1c" stroke-width="2.6" stroke-linejoin="round"/>
<polyline points="270.5,581.7 271.5,581.7 272.5,581.7 273.5,581.7 274.5,581.7 275.5,581.7 276.5,581.7 277.5,581.7 278.5,581.7 279.5,581.7 280.5,581.7 281.5,581.7 282.5,581.7 283.5,581.7 284.5,581.7 285.5,581.7 286.5,581.7 287.5,581.7 288.5,581.7 289.5,581.7 290.5,581.7 291.5,581.7 292.5,581.7 293.5,581.7 294.5,581.7 295.5,581.7 296.5,581.7 297.5,581.7 298.5,581.7 299.5,581.7 300.5,581.7 301.5,581.7 302.5,581.7 303.5,581.7 304.5,581.7 305.5,581.7 306.5,581.7 307.5,581.7 308.5,581.7 309.5,581.7 310.5,581.7 311.5,581.7 312.5,581.7 313.5,581.7 314.5,581.7 315.5,581.7 316.5,581.7 317.5,581.7 318.5,581.7 319.5,581.7 320.5,581.7 321.5,581.7 322.5,581.7 323.5,581.7 324.5,581.7 325.5,581.7 326.5,581.7 327.5,581.7 328.5,581.7 329.5,581.7 330.5,581.7 331.5,581.7 332.5,581.6 333.5,581.6 334.5,581.5 335.5,581.4 336.5,581.2 337.5,581.0 338.5,580.7 339.5,580.3 340.5,579.7 341.5,578.9 342.5,577.9 343.5,576.5 344.5,574.8 345.5,572.7 346.5,570.1 347.5,566.9 348.5,563.2 349.5,559.0 350.5,554.2 351.5,548.9 352.5,543.1 353.5,537.1 354.5,530.9 355.5,524.8 356.5,518.9 357.5,513.5 358.5,508.7 359.5,504.9 360.5,502.0 361.5,500.4 362.5,500.0 363.5,500.9 364.5,503.0 365.5,506.3 366.5,510.5 367.5,515.6 368.5,521.2 369.5,527.2 370.5,533.4 371.5,539.5 372.5,545.5 373.5,551.0 374.5,556.2 375.5,560.8 376.5,564.8 377.5,568.3 378.5,571.2 379.5,573.6 380.5,575.6 381.5,577.1 382.5,578.3 383.5,579.3 384.5,580.0 385.5,580.5 386.5,580.9 387.5,581.1 388.5,581.3 389.5,581.4 390.5,581.5 391.5,581.6 392.5,581.6 393.5,581.7 394.5,581.7 395.5,581.7 396.5,581.7 397.5,581.7 398.5,581.7 399.5,581.7 400.5,581.7 401.5,581.7 402.5,581.7 403.5,581.7 404.5,581.7 405.5,581.7 406.5,581.7 407.5,581.7 408.5,581.7 409.5,581.7 410.5,581.7 411.5,581.7 412.5,581.7 413.5,581.7 414.5,581.7 415.5,581.7 416.5,581.7 417.5,581.7 418.5,581.7 419.5,581.7 420.5,581.7 421.5,581.7 422.5,581.7 423.5,581.7 424.5,581.7 425.5,581.7 426.5,581.7 427.5,581.7 428.5,581.7 429.5,581.7 430.5,581.7 431.5,581.7 432.5,581.7 433.5,581.7 434.5,581.7 435.5,581.7 436.5,581.7 437.5,581.7 438.5,581.7 439.5,581.7 440.5,581.7 441.5,581.7 442.5,581.7 443.5,581.7 444.5,581.7 445.5,581.7 446.5,581.7 447.5,581.7 448.5,581.7 449.5,581.7 450.5,581.7" fill="none" stroke="#e06446" stroke-width="2.5" stroke-dasharray="6.3 5"/>
<line x1="269.50" y1="464.00" x2="452.00" y2="464.00" stroke="#433a35" stroke-width="2.4"/>
<line x1="451.00" y1="463.00" x2="451.00" y2="594.20" stroke="#45403d" stroke-width="2"/>
<line x1="270.50" y1="463.00" x2="270.50" y2="594.20" stroke="#252525" stroke-width="2"/>
<line x1="269.50" y1="584.20" x2="452.00" y2="584.20" stroke="#1a1a1a" stroke-width="2"/>
<line x1="293.06" y1="584.20" x2="293.06" y2="589.20" stroke="#222" stroke-width="2"/>
<line x1="315.62" y1="584.20" x2="315.62" y2="594.20" stroke="#222" stroke-width="2"/>
<line x1="338.19" y1="584.20" x2="338.19" y2="589.20" stroke="#222" stroke-width="2"/>
<line x1="360.75" y1="584.20" x2="360.75" y2="594.20" stroke="#222" stroke-width="2"/>
<line x1="383.31" y1="584.20" x2="383.31" y2="589.20" stroke="#222" stroke-width="2"/>
<line x1="405.88" y1="584.20" x2="405.88" y2="594.20" stroke="#222" stroke-width="2"/>
<line x1="428.44" y1="584.20" x2="428.44" y2="589.20" stroke="#222" stroke-width="2"/>
<line x1="270.50" y1="581.70" x2="279.50" y2="581.70" stroke="#222" stroke-width="2"/>
<line x1="270.50" y1="569.88" x2="275.50" y2="569.88" stroke="#222" stroke-width="2"/>
<line x1="270.50" y1="558.06" x2="275.50" y2="558.06" stroke="#222" stroke-width="2"/>
<line x1="270.50" y1="546.24" x2="275.50" y2="546.24" stroke="#222" stroke-width="2"/>
<line x1="270.50" y1="534.42" x2="279.50" y2="534.42" stroke="#222" stroke-width="2"/>
<line x1="270.50" y1="522.60" x2="275.50" y2="522.60" stroke="#222" stroke-width="2"/>
<line x1="270.50" y1="510.78" x2="275.50" y2="510.78" stroke="#222" stroke-width="2"/>
<line x1="270.50" y1="498.96" x2="275.50" y2="498.96" stroke="#222" stroke-width="2"/>
<line x1="270.50" y1="487.14" x2="279.50" y2="487.14" stroke="#222" stroke-width="2"/>
<line x1="270.50" y1="475.32" x2="275.50" y2="475.32" stroke="#222" stroke-width="2"/>
<text x="449.10" y="482.35" font-size="20" font-weight="bold" text-anchor="end" >(h)</text>
<text x="59.80" y="494.04" font-size="20" font-weight="bold" text-anchor="end" >0.4</text>
<text x="59.80" y="541.32" font-size="20" font-weight="bold" text-anchor="end" >0.2</text>
<text x="62.50" y="589.40" font-size="20" font-weight="normal" text-anchor="end" stroke="#1e1e1e" stroke-width="0.7">0</text>
<text x="454.60" y="537.80" font-size="17" font-weight="bold" text-anchor="start" textLength="62.2" lengthAdjust="spacingAndGlyphs">201.0 m/s</text>
<polyline points="72.0,726.7 92.0,726.3 105.0,724.7 113.1,723.4 119.8,722.0 125.9,718.6 129.9,710.6 132.6,699.8 135.3,693.1 140.0,685.7 145.4,678.3 150.8,670.2 156.1,661.4 158.8,659.4 161.5,660.1 166.3,667.2 170.8,677.1 175.4,691.6 179.9,706.1 184.4,713.3 190.7,717.8 196.2,718.7 203.4,721.4 210.6,722.3 217.9,721.4 223.3,723.2 232.3,724.5 241.4,725.6 253.0,726.3" fill="none" stroke="#1c1c1c" stroke-width="2.6" stroke-linejoin="round"/>
<polyline points="72.0,726.9 73.0,726.9 74.0,726.9 75.0,726.9 76.0,726.9 77.0,726.9 78.0,726.9 79.0,726.9 80.0,726.9 81.0,726.9 82.0,726.9 83.0,726.9 84.0,726.9 85.0,726.9 86.0,726.9 87.0,726.9 88.0,726.9 89.0,726.9 90.0,726.9 91.0,726.9 92.0,726.9 93.0,726.9 94.0,726.9 95.0,726.8 96.0,726.8 97.0,726.8 98.0,726.8 99.0,726.8 100.0,726.7 101.0,726.7 102.0,726.6 103.0,726.6 104.0,726.5 105.0,726.4 106.0,726.3 107.0,726.2 108.0,726.1 109.0,725.9 110.0,725.7 111.0,725.5 112.0,725.3 113.0,725.0 114.0,724.6 115.0,724.3 116.0,723.8 117.0,723.3 118.0,722.8 119.0,722.1 120.0,721.4 121.0,720.7 122.0,719.8 123.0,718.8 124.0,717.8 125.0,716.6 126.0,715.4 127.0,714.0 128.0,712.5 129.0,710.9 130.0,709.2 131.0,707.4 132.0,705.5 133.0,703.5 134.0,701.4 135.0,699.2 136.0,696.9 137.0,694.6 138.0,692.2 139.0,689.7 140.0,687.3 141.0,684.8 142.0,682.3 143.0,679.9 144.0,677.5 145.0,675.2 146.0,672.9 147.0,670.8 148.0,668.8 149.0,667.0 150.0,665.3 151.0,663.8 152.0,662.5 153.0,661.5 154.0,660.6 155.0,660.0 156.0,659.6 157.0,659.5 158.0,659.6 159.0,660.0 160.0,660.6 161.0,661.5 162.0,662.5 163.0,663.8 164.0,665.3 165.0,667.0 166.0,668.8 167.0,670.8 168.0,672.9 169.0,675.2 170.0,677.5 171.0,679.9 172.0,682.3 173.0,684.8 174.0,687.3 175.0,689.7 176.0,692.2 177.0,694.6 178.0,696.9 179.0,699.2 180.0,701.4 181.0,703.5 182.0,705.5 183.0,707.4 184.0,709.2 185.0,710.9 186.0,712.5 187.0,714.0 188.0,715.4 189.0,716.6 190.0,717.8 191.0,718.8 192.0,719.8 193.0,720.7 194.0,721.4 195.0,722.1 196.0,722.8 197.0,723.3 198.0,723.8 199.0,724.3 200.0,724.6 201.0,725.0 202.0,725.3 203.0,725.5 204.0,725.7 205.0,725.9 206.0,726.1 207.0,726.2 208.0,726.3 209.0,726.4 210.0,726.5 211.0,726.6 212.0,726.6 213.0,726.7 214.0,726.7 215.0,726.8 216.0,726.8 217.0,726.8 218.0,726.8 219.0,726.8 220.0,726.9 221.0,726.9 222.0,726.9 223.0,726.9 224.0,726.9 225.0,726.9 226.0,726.9 227.0,726.9 228.0,726.9 229.0,726.9 230.0,726.9 231.0,726.9 232.0,726.9 233.0,726.9 234.0,726.9 235.0,726.9 236.0,726.9 237.0,726.9 238.0,726.9 239.0,726.9 240.0,726.9 241.0,726.9 242.0,726.9 243.0,726.9 244.0,726.9 245.0,726.9 246.0,726.9 247.0,726.9 248.0,726.9 249.0,726.9 250.0,726.9 251.0,726.9 252.0,726.9 253.0,726.9" fill="none" stroke="#e06446" stroke-width="2.5" stroke-dasharray="6.3 5"/>
<line x1="71.00" y1="609.10" x2="254.00" y2="609.10" stroke="#433a35" stroke-width="2.4"/>
<line x1="253.00" y1="608.10" x2="253.00" y2="739.30" stroke="#45403d" stroke-width="2"/>
<line x1="72.00" y1="608.10" x2="72.00" y2="739.30" stroke="#252525" stroke-width="2"/>
<line x1="71.00" y1="729.30" x2="254.00" y2="729.30" stroke="#1a1a1a" stroke-width="2"/>
<line x1="94.62" y1="729.30" x2="94.62" y2="734.30" stroke="#222" stroke-width="2"/>
<line x1="117.25" y1="729.30" x2="117.25" y2="739.30" stroke="#222" stroke-width="2"/>
<line x1="139.88" y1="729.30" x2="139.88" y2="734.30" stroke="#222" stroke-width="2"/>
<line x1="162.50" y1="729.30" x2="162.50" y2="739.30" stroke="#222" stroke-width="2"/>
<line x1="185.12" y1="729.30" x2="185.12" y2="734.30" stroke="#222" stroke-width="2"/>
<line x1="207.75" y1="729.30" x2="207.75" y2="739.30" stroke="#222" stroke-width="2"/>
<line x1="230.38" y1="729.30" x2="230.38" y2="734.30" stroke="#222" stroke-width="2"/>
<line x1="72.00" y1="726.70" x2="81.00" y2="726.70" stroke="#222" stroke-width="2"/>
<line x1="72.00" y1="714.88" x2="77.00" y2="714.88" stroke="#222" stroke-width="2"/>
<line x1="72.00" y1="703.06" x2="77.00" y2="703.06" stroke="#222" stroke-width="2"/>
<line x1="72.00" y1="691.24" x2="77.00" y2="691.24" stroke="#222" stroke-width="2"/>
<line x1="72.00" y1="679.42" x2="81.00" y2="679.42" stroke="#222" stroke-width="2"/>
<line x1="72.00" y1="667.60" x2="77.00" y2="667.60" stroke="#222" stroke-width="2"/>
<line x1="72.00" y1="655.78" x2="77.00" y2="655.78" stroke="#222" stroke-width="2"/>
<line x1="72.00" y1="643.96" x2="77.00" y2="643.96" stroke="#222" stroke-width="2"/>
<line x1="72.00" y1="632.14" x2="81.00" y2="632.14" stroke="#222" stroke-width="2"/>
<line x1="72.00" y1="620.32" x2="77.00" y2="620.32" stroke="#222" stroke-width="2"/>
<text x="253.10" y="627.20" font-size="20" font-weight="bold" text-anchor="end" >(i)</text>
<polyline points="290.0,726.7 310.0,726.5 315.0,726.1 320.4,724.8 324.4,723.4 328.5,718.1 332.5,714.7 337.2,714.7 341.9,712.7 343.9,704.6 346.6,693.8 348.6,680.4 351.3,672.3 355.4,665.6 358.7,656.2 360.8,651.4 363.5,657.5 366.8,665.6 370.2,676.3 374.5,685.5 378.2,697.1 381.5,705.2 384.9,711.9 387.6,719.3 392.3,721.3 397.7,719.3 401.7,722.0 406.4,721.3 411.8,725.4 416.5,726.4 430.0,726.7" fill="none" stroke="#1c1c1c" stroke-width="2.6" stroke-linejoin="round"/>
<polyline points="270.5,726.7 271.5,726.7 272.5,726.7 273.5,726.7 274.5,726.7 275.5,726.7 276.5,726.7 277.5,726.7 278.5,726.7 279.5,726.7 280.5,726.7 281.5,726.7 282.5,726.7 283.5,726.7 284.5,726.7 285.5,726.7 286.5,726.7 287.5,726.7 288.5,726.7 289.5,726.7 290.5,726.7 291.5,726.7 292.5,726.7 293.5,726.7 294.5,726.7 295.5,726.7 296.5,726.7 297.5,726.7 298.5,726.7 299.5,726.7 300.5,726.7 301.5,726.7 302.5,726.7 303.5,726.7 304.5,726.7 305.5,726.7 306.5,726.7 307.5,726.7 308.5,726.7 309.5,726.7 310.5,726.7 311.5,726.7 312.5,726.7 313.5,726.6 314.5,726.6 315.5,726.6 316.5,726.6 317.5,726.5 318.5,726.5 319.5,726.4 320.5,726.3 321.5,726.2 322.5,726.1 323.5,725.9 324.5,725.7 325.5,725.5 326.5,725.2 327.5,724.8 328.5,724.4 329.5,723.8 330.5,723.2 331.5,722.5 332.5,721.6 333.5,720.6 334.5,719.5 335.5,718.2 336.5,716.7 337.5,715.1 338.5,713.2 339.5,711.2 340.5,709.0 341.5,706.6 342.5,704.0 343.5,701.2 344.5,698.3 345.5,695.2 346.5,692.0 347.5,688.7 348.5,685.4 349.5,682.1 350.5,678.8 351.5,675.6 352.5,672.5 353.5,669.6 354.5,666.9 355.5,664.5 356.5,662.3 357.5,660.6 358.5,659.2 359.5,658.2 360.5,657.6 361.5,657.5 362.5,657.8 363.5,658.5 364.5,659.7 365.5,661.2 366.5,663.1 367.5,665.4 368.5,667.9 369.5,670.7 370.5,673.7 371.5,676.8 372.5,680.1 373.5,683.4 374.5,686.7 375.5,690.0 376.5,693.3 377.5,696.4 378.5,699.4 379.5,702.3 380.5,705.0 381.5,707.6 382.5,709.9 383.5,712.0 384.5,714.0 385.5,715.8 386.5,717.3 387.5,718.7 388.5,720.0 389.5,721.0 390.5,722.0 391.5,722.8 392.5,723.5 393.5,724.1 394.5,724.5 395.5,725.0 396.5,725.3 397.5,725.6 398.5,725.8 399.5,726.0 400.5,726.2 401.5,726.3 402.5,726.4 403.5,726.4 404.5,726.5 405.5,726.6 406.5,726.6 407.5,726.6 408.5,726.6 409.5,726.7 410.5,726.7 411.5,726.7 412.5,726.7 413.5,726.7 414.5,726.7 415.5,726.7 416.5,726.7 417.5,726.7 418.5,726.7 419.5,726.7 420.5,726.7 421.5,726.7 422.5,726.7 423.5,726.7 424.5,726.7 425.5,726.7 426.5,726.7 427.5,726.7 428.5,726.7 429.5,726.7 430.5,726.7 431.5,726.7 432.5,726.7 433.5,726.7 434.5,726.7 435.5,726.7 436.5,726.7 437.5,726.7 438.5,726.7 439.5,726.7 440.5,726.7 441.5,726.7 442.5,726.7 443.5,726.7 444.5,726.7 445.5,726.7 446.5,726.7 447.5,726.7 448.5,726.7 449.5,726.7 450.5,726.7" fill="none" stroke="#e06446" stroke-width="2.5" stroke-dasharray="6.3 5"/>
<line x1="269.50" y1="609.10" x2="452.00" y2="609.10" stroke="#433a35" stroke-width="2.4"/>
<line x1="451.00" y1="608.10" x2="451.00" y2="739.30" stroke="#45403d" stroke-width="2"/>
<line x1="270.50" y1="608.10" x2="270.50" y2="739.30" stroke="#252525" stroke-width="2"/>
<line x1="269.50" y1="729.30" x2="452.00" y2="729.30" stroke="#1a1a1a" stroke-width="2"/>
<line x1="293.06" y1="729.30" x2="293.06" y2="734.30" stroke="#222" stroke-width="2"/>
<line x1="315.62" y1="729.30" x2="315.62" y2="739.30" stroke="#222" stroke-width="2"/>
<line x1="338.19" y1="729.30" x2="338.19" y2="734.30" stroke="#222" stroke-width="2"/>
<line x1="360.75" y1="729.30" x2="360.75" y2="739.30" stroke="#222" stroke-width="2"/>
<line x1="383.31" y1="729.30" x2="383.31" y2="734.30" stroke="#222" stroke-width="2"/>
<line x1="405.88" y1="729.30" x2="405.88" y2="739.30" stroke="#222" stroke-width="2"/>
<line x1="428.44" y1="729.30" x2="428.44" y2="734.30" stroke="#222" stroke-width="2"/>
<line x1="270.50" y1="726.70" x2="279.50" y2="726.70" stroke="#222" stroke-width="2"/>
<line x1="270.50" y1="714.88" x2="275.50" y2="714.88" stroke="#222" stroke-width="2"/>
<line x1="270.50" y1="703.06" x2="275.50" y2="703.06" stroke="#222" stroke-width="2"/>
<line x1="270.50" y1="691.24" x2="275.50" y2="691.24" stroke="#222" stroke-width="2"/>
<line x1="270.50" y1="679.42" x2="279.50" y2="679.42" stroke="#222" stroke-width="2"/>
<line x1="270.50" y1="667.60" x2="275.50" y2="667.60" stroke="#222" stroke-width="2"/>
<line x1="270.50" y1="655.78" x2="275.50" y2="655.78" stroke="#222" stroke-width="2"/>
<line x1="270.50" y1="643.96" x2="275.50" y2="643.96" stroke="#222" stroke-width="2"/>
<line x1="270.50" y1="632.14" x2="279.50" y2="632.14" stroke="#222" stroke-width="2"/>
<line x1="270.50" y1="620.32" x2="275.50" y2="620.32" stroke="#222" stroke-width="2"/>
<text x="452.60" y="626.35" font-size="20" font-weight="bold" text-anchor="end" >(j)</text>
<text x="59.80" y="639.04" font-size="20" font-weight="bold" text-anchor="end" >0.4</text>
<text x="59.80" y="686.32" font-size="20" font-weight="bold" text-anchor="end" >0.2</text>
<text x="62.50" y="734.40" font-size="20" font-weight="normal" text-anchor="end" stroke="#1e1e1e" stroke-width="0.7">0</text>
<text x="454.60" y="681.90" font-size="17" font-weight="bold" text-anchor="start" textLength="62.2" lengthAdjust="spacingAndGlyphs">215.4 m/s</text>
<polyline points="91.0,868.0 100.0,868.1 106.4,867.8 111.8,865.5 116.8,859.9 120.4,860.5 125.6,856.2 131.0,850.8 135.0,840.8 139.0,831.3 141.7,819.2 144.4,813.2 148.5,805.8 152.5,796.3 155.2,784.2 159.2,767.1 164.2,760.4 168.5,767.1 173.8,780.6 176.5,795.4 180.6,814.2 186.0,830.4 190.7,846.5 194.7,858.6 199.4,858.6 206.3,861.4 211.5,864.7 217.0,866.7 224.8,865.3 231.2,866.9 236.6,868.5 243.1,869.6 252.0,869.1" fill="none" stroke="#1c1c1c" stroke-width="2.6" stroke-linejoin="round"/>
<polyline points="72.0,869.8 73.0,869.8 74.0,869.8 75.0,869.8 76.0,869.8 77.0,869.8 78.0,869.8 79.0,869.8 80.0,869.8 81.0,869.8 82.0,869.8 83.0,869.8 84.0,869.8 85.0,869.8 86.0,869.8 87.0,869.8 88.0,869.8 89.0,869.8 90.0,869.8 91.0,869.8 92.0,869.8 93.0,869.8 94.0,869.8 95.0,869.8 96.0,869.8 97.0,869.8 98.0,869.8 99.0,869.7 100.0,869.7 101.0,869.7 102.0,869.7 103.0,869.6 104.0,869.6 105.0,869.6 106.0,869.5 107.0,869.4 108.0,869.4 109.0,869.3 110.0,869.2 111.0,869.0 112.0,868.9 113.0,868.7 114.0,868.4 115.0,868.2 116.0,867.9 117.0,867.5 118.0,867.1 119.0,866.6 120.0,866.1 121.0,865.5 122.0,864.8 123.0,864.0 124.0,863.1 125.0,862.1 126.0,860.9 127.0,859.7 128.0,858.3 129.0,856.8 130.0,855.1 131.0,853.3 132.0,851.3 133.0,849.1 134.0,846.8 135.0,844.3 136.0,841.6 137.0,838.8 138.0,835.8 139.0,832.7 140.0,829.4 141.0,826.0 142.0,822.5 143.0,818.9 144.0,815.2 145.0,811.5 146.0,807.8 147.0,804.0 148.0,800.3 149.0,796.6 150.0,793.0 151.0,789.6 152.0,786.3 153.0,783.1 154.0,780.2 155.0,777.5 156.0,775.1 157.0,773.0 158.0,771.2 159.0,769.8 160.0,768.7 161.0,767.9 162.0,767.5 163.0,767.5 164.0,767.9 165.0,768.7 166.0,769.8 167.0,771.2 168.0,773.0 169.0,775.1 170.0,777.5 171.0,780.2 172.0,783.1 173.0,786.3 174.0,789.6 175.0,793.0 176.0,796.6 177.0,800.3 178.0,804.0 179.0,807.8 180.0,811.5 181.0,815.2 182.0,818.9 183.0,822.5 184.0,826.0 185.0,829.4 186.0,832.7 187.0,835.8 188.0,838.8 189.0,841.6 190.0,844.3 191.0,846.8 192.0,849.1 193.0,851.3 194.0,853.3 195.0,855.1 196.0,856.8 197.0,858.3 198.0,859.7 199.0,860.9 200.0,862.1 201.0,863.1 202.0,864.0 203.0,864.8 204.0,865.5 205.0,866.1 206.0,866.6 207.0,867.1 208.0,867.5 209.0,867.9 210.0,868.2 211.0,868.4 212.0,868.7 213.0,868.9 214.0,869.0 215.0,869.2 216.0,869.3 217.0,869.4 218.0,869.4 219.0,869.5 220.0,869.6 221.0,869.6 222.0,869.6 223.0,869.7 224.0,869.7 225.0,869.7 226.0,869.7 227.0,869.8 228.0,869.8 229.0,869.8 230.0,869.8 231.0,869.8 232.0,869.8 233.0,869.8 234.0,869.8 235.0,869.8 236.0,869.8 237.0,869.8 238.0,869.8 239.0,869.8 240.0,869.8 241.0,869.8 242.0,869.8 243.0,869.8 244.0,869.8 245.0,869.8 246.0,869.8 247.0,869.8 248.0,869.8 249.0,869.8 250.0,869.8 251.0,869.8 252.0,869.8 253.0,869.8" fill="none" stroke="#e06446" stroke-width="2.5" stroke-dasharray="6.3 5"/>
<line x1="71.00" y1="754.20" x2="254.00" y2="754.20" stroke="#433a35" stroke-width="2.4"/>
<line x1="253.00" y1="753.20" x2="253.00" y2="884.40" stroke="#45403d" stroke-width="2"/>
<line x1="72.00" y1="753.20" x2="72.00" y2="884.40" stroke="#252525" stroke-width="2"/>
<line x1="71.00" y1="874.40" x2="254.00" y2="874.40" stroke="#1a1a1a" stroke-width="2"/>
<line x1="94.62" y1="874.40" x2="94.62" y2="879.40" stroke="#222" stroke-width="2"/>
<line x1="117.25" y1="874.40" x2="117.25" y2="884.40" stroke="#222" stroke-width="2"/>
<line x1="139.88" y1="874.40" x2="139.88" y2="879.40" stroke="#222" stroke-width="2"/>
<line x1="162.50" y1="874.40" x2="162.50" y2="884.40" stroke="#222" stroke-width="2"/>
<line x1="185.12" y1="874.40" x2="185.12" y2="879.40" stroke="#222" stroke-width="2"/>
<line x1="207.75" y1="874.40" x2="207.75" y2="884.40" stroke="#222" stroke-width="2"/>
<line x1="230.38" y1="874.40" x2="230.38" y2="879.40" stroke="#222" stroke-width="2"/>
<line x1="72.00" y1="869.70" x2="81.00" y2="869.70" stroke="#222" stroke-width="2"/>
<line x1="72.00" y1="858.09" x2="77.00" y2="858.09" stroke="#222" stroke-width="2"/>
<line x1="72.00" y1="846.48" x2="77.00" y2="846.48" stroke="#222" stroke-width="2"/>
<line x1="72.00" y1="834.87" x2="77.00" y2="834.87" stroke="#222" stroke-width="2"/>
<line x1="72.00" y1="823.26" x2="81.00" y2="823.26" stroke="#222" stroke-width="2"/>
<line x1="72.00" y1="811.65" x2="77.00" y2="811.65" stroke="#222" stroke-width="2"/>
<line x1="72.00" y1="800.04" x2="77.00" y2="800.04" stroke="#222" stroke-width="2"/>
<line x1="72.00" y1="788.43" x2="77.00" y2="788.43" stroke="#222" stroke-width="2"/>
<line x1="72.00" y1="776.82" x2="81.00" y2="776.82" stroke="#222" stroke-width="2"/>
<line x1="72.00" y1="765.21" x2="77.00" y2="765.21" stroke="#222" stroke-width="2"/>
<text x="252.10" y="772.50" font-size="20" font-weight="bold" text-anchor="end" >(k)</text>
<polyline points="285.0,869.0 300.0,868.5 310.0,867.0 314.7,868.1 320.5,862.3 325.1,860.5 330.4,855.3 334.5,846.6 338.0,837.2 341.5,827.9 345.0,822.1 347.3,813.9 349.0,800.0 350.2,789.5 355.4,783.6 360.8,776.7 364.3,786.0 366.7,795.3 370.1,806.9 373.6,819.8 376.0,827.9 378.9,833.7 381.2,844.2 383.5,853.5 387.0,859.4 392.3,861.7 395.2,864.0 399.3,866.4 403.9,867.3 408.6,866.6 414.4,868.1 425.0,868.5 435.0,869.0" fill="none" stroke="#1c1c1c" stroke-width="2.6" stroke-linejoin="round"/>
<polyline points="270.5,869.7 271.5,869.7 272.5,869.7 273.5,869.7 274.5,869.7 275.5,869.7 276.5,869.7 277.5,869.7 278.5,869.7 279.5,869.7 280.5,869.7 281.5,869.7 282.5,869.7 283.5,869.7 284.5,869.7 285.5,869.7 286.5,869.7 287.5,869.7 288.5,869.7 289.5,869.7 290.5,869.7 291.5,869.7 292.5,869.7 293.5,869.7 294.5,869.7 295.5,869.7 296.5,869.7 297.5,869.7 298.5,869.7 299.5,869.7 300.5,869.7 301.5,869.7 302.5,869.6 303.5,869.6 304.5,869.6 305.5,869.6 306.5,869.5 307.5,869.5 308.5,869.4 309.5,869.3 310.5,869.3 311.5,869.2 312.5,869.0 313.5,868.9 314.5,868.7 315.5,868.4 316.5,868.2 317.5,867.9 318.5,867.5 319.5,867.0 320.5,866.5 321.5,865.9 322.5,865.2 323.5,864.4 324.5,863.5 325.5,862.5 326.5,861.3 327.5,860.0 328.5,858.6 329.5,857.0 330.5,855.2 331.5,853.2 332.5,851.1 333.5,848.8 334.5,846.3 335.5,843.7 336.5,840.8 337.5,837.8 338.5,834.7 339.5,831.4 340.5,828.0 341.5,824.6 342.5,821.0 343.5,817.5 344.5,813.9 345.5,810.4 346.5,806.9 347.5,803.5 348.5,800.3 349.5,797.2 350.5,794.4 351.5,791.8 352.5,789.5 353.5,787.5 354.5,785.8 355.5,784.6 356.5,783.6 357.5,783.1 358.5,783.0 359.5,783.3 360.5,784.0 361.5,785.0 362.5,786.5 363.5,788.3 364.5,790.4 365.5,792.8 366.5,795.5 367.5,798.4 368.5,801.5 369.5,804.8 370.5,808.3 371.5,811.8 372.5,815.3 373.5,818.9 374.5,822.5 375.5,826.0 376.5,829.4 377.5,832.8 378.5,836.0 379.5,839.1 380.5,842.0 381.5,844.7 382.5,847.3 383.5,849.8 384.5,852.0 385.5,854.0 386.5,855.9 387.5,857.6 388.5,859.2 389.5,860.6 390.5,861.8 391.5,862.9 392.5,863.9 393.5,864.8 394.5,865.5 395.5,866.2 396.5,866.7 397.5,867.2 398.5,867.6 399.5,868.0 400.5,868.3 401.5,868.5 402.5,868.8 403.5,868.9 404.5,869.1 405.5,869.2 406.5,869.3 407.5,869.4 408.5,869.4 409.5,869.5 410.5,869.5 411.5,869.6 412.5,869.6 413.5,869.6 414.5,869.6 415.5,869.7 416.5,869.7 417.5,869.7 418.5,869.7 419.5,869.7 420.5,869.7 421.5,869.7 422.5,869.7 423.5,869.7 424.5,869.7 425.5,869.7 426.5,869.7 427.5,869.7 428.5,869.7 429.5,869.7 430.5,869.7 431.5,869.7 432.5,869.7 433.5,869.7 434.5,869.7 435.5,869.7 436.5,869.7 437.5,869.7 438.5,869.7 439.5,869.7 440.5,869.7 441.5,869.7 442.5,869.7 443.5,869.7 444.5,869.7 445.5,869.7 446.5,869.7 447.5,869.7 448.5,869.7 449.5,869.7 450.5,869.7" fill="none" stroke="#e06446" stroke-width="2.5" stroke-dasharray="6.3 5"/>
<line x1="269.50" y1="754.20" x2="452.00" y2="754.20" stroke="#433a35" stroke-width="2.4"/>
<line x1="451.00" y1="753.20" x2="451.00" y2="884.40" stroke="#45403d" stroke-width="2"/>
<line x1="270.50" y1="753.20" x2="270.50" y2="884.40" stroke="#252525" stroke-width="2"/>
<line x1="269.50" y1="874.40" x2="452.00" y2="874.40" stroke="#1a1a1a" stroke-width="2"/>
<line x1="293.06" y1="874.40" x2="293.06" y2="879.40" stroke="#222" stroke-width="2"/>
<line x1="315.62" y1="874.40" x2="315.62" y2="884.40" stroke="#222" stroke-width="2"/>
<line x1="338.19" y1="874.40" x2="338.19" y2="879.40" stroke="#222" stroke-width="2"/>
<line x1="360.75" y1="874.40" x2="360.75" y2="884.40" stroke="#222" stroke-width="2"/>
<line x1="383.31" y1="874.40" x2="383.31" y2="879.40" stroke="#222" stroke-width="2"/>
<line x1="405.88" y1="874.40" x2="405.88" y2="884.40" stroke="#222" stroke-width="2"/>
<line x1="428.44" y1="874.40" x2="428.44" y2="879.40" stroke="#222" stroke-width="2"/>
<line x1="270.50" y1="869.70" x2="279.50" y2="869.70" stroke="#222" stroke-width="2"/>
<line x1="270.50" y1="858.09" x2="275.50" y2="858.09" stroke="#222" stroke-width="2"/>
<line x1="270.50" y1="846.48" x2="275.50" y2="846.48" stroke="#222" stroke-width="2"/>
<line x1="270.50" y1="834.87" x2="275.50" y2="834.87" stroke="#222" stroke-width="2"/>
<line x1="270.50" y1="823.26" x2="279.50" y2="823.26" stroke="#222" stroke-width="2"/>
<line x1="270.50" y1="811.65" x2="275.50" y2="811.65" stroke="#222" stroke-width="2"/>
<line x1="270.50" y1="800.04" x2="275.50" y2="800.04" stroke="#222" stroke-width="2"/>
<line x1="270.50" y1="788.43" x2="275.50" y2="788.43" stroke="#222" stroke-width="2"/>
<line x1="270.50" y1="776.82" x2="279.50" y2="776.82" stroke="#222" stroke-width="2"/>
<line x1="270.50" y1="765.21" x2="275.50" y2="765.21" stroke="#222" stroke-width="2"/>
<text x="451.20" y="771.85" font-size="20" font-weight="bold" text-anchor="end" >(l)</text>
<text x="59.80" y="783.72" font-size="20" font-weight="bold" text-anchor="end" >0.4</text>
<text x="59.80" y="830.16" font-size="20" font-weight="bold" text-anchor="end" >0.2</text>
<text x="62.50" y="877.40" font-size="20" font-weight="normal" text-anchor="end" stroke="#1e1e1e" stroke-width="0.7">0</text>
<text x="454.60" y="827.30" font-size="17" font-weight="bold" text-anchor="start" textLength="62.2" lengthAdjust="spacingAndGlyphs">236.3 m/s</text>
<text x="73.20" y="908.00" font-size="19" font-weight="bold" text-anchor="middle" >1</text>
<text x="117.25" y="908.00" font-size="19" font-weight="bold" text-anchor="middle" >2</text>
<text x="162.50" y="908.00" font-size="19" font-weight="bold" text-anchor="middle" >3</text>
<text x="207.75" y="908.00" font-size="19" font-weight="bold" text-anchor="middle" >4</text>
<text x="253.00" y="908.00" font-size="19" font-weight="bold" text-anchor="middle" >5</text>
<text x="271.70" y="908.00" font-size="19" font-weight="bold" text-anchor="middle" >1</text>
<text x="315.62" y="908.00" font-size="19" font-weight="bold" text-anchor="middle" >2</text>
<text x="360.75" y="908.00" font-size="19" font-weight="bold" text-anchor="middle" >3</text>
<text x="405.88" y="908.00" font-size="19" font-weight="bold" text-anchor="middle" >4</text>
<text x="451.00" y="908.00" font-size="19" font-weight="bold" text-anchor="middle" >5</text>
<text x="160.40" y="15.40" font-size="17.5" font-weight="bold" text-anchor="middle" >2D metallography</text>
<text x="357.70" y="15.40" font-size="17.5" font-weight="bold" text-anchor="middle" >3D tomography</text>
<text x="250.80" y="938.00" font-size="21" font-weight="normal" text-anchor="middle" stroke="#1e1e1e" stroke-width="0.6">Distance from free surface (mm)</text>
<text x="0" y="0" font-size="21" font-weight="normal" text-anchor="middle" stroke="#1e1e1e" stroke-width="0.6" transform="translate(16.4,450.6) rotate(-90)">Porosity</text></svg>
</body></html>
